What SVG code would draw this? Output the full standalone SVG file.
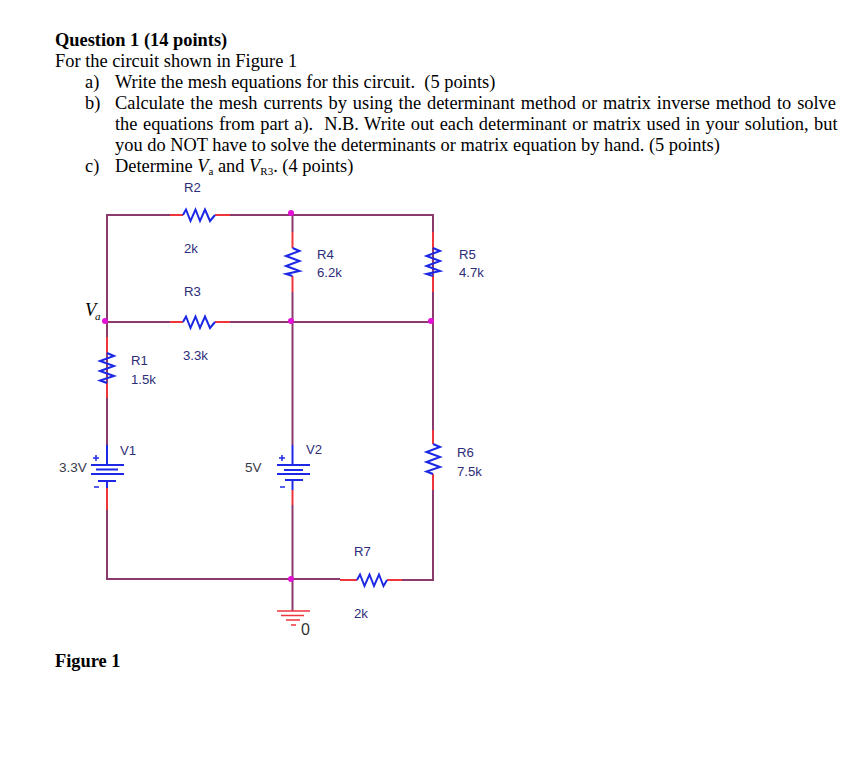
<svg xmlns="http://www.w3.org/2000/svg" width="859" height="761" viewBox="0 0 859 761">
<style>
text{font-family:"Liberation Serif","Times New Roman",serif;fill:#000}
.t{font-size:18.4px}
.b{font-weight:bold}
.i{font-style:italic}
.sub{font-size:11px}
.l{font-family:"Liberation Sans",Arial,sans-serif;font-size:13.2px;fill:#2e2e78}
.v{font-family:"Liberation Sans",Arial,sans-serif;font-size:13.5px;fill:#3a3a4a}
.w{stroke:#8a3a6c;stroke-width:2;fill:none}
.r{stroke:#f0343c;stroke-width:2;fill:none}
.c{stroke:#1c28e6;stroke-width:2;fill:none;stroke-linejoin:miter}
.g{stroke:#f0343c;stroke-width:1.6;fill:none}
.j{fill:#e410d8}
</style>
<rect width="859" height="761" fill="#fff"/>
<g id="question">
<text class="t b" x="55" y="46">Question 1 (14 points)</text>
<text class="t" x="55" y="67">For the circuit shown in Figure 1</text>
<text class="t" x="85" y="88">a)</text>
<text class="t" x="115" y="88" xml:space="preserve">Write the mesh equations for this circuit.  (5 points)</text>
<text class="t" x="85" y="109">b)</text>
<text class="t" x="115" y="109" word-spacing="1.3">Calculate the mesh currents by using the determinant method or matrix inverse method to solve</text>
<text class="t" x="115" y="130" word-spacing="0.9" xml:space="preserve">the equations from part a).  N.B. Write out each determinant or matrix used in your solution, but</text>
<text class="t" x="115" y="151">you do NOT have to solve the determinants or matrix equation by hand. (5 points)</text>
<text class="t" x="85" y="172">c)</text>
<text class="t" x="115" y="172">Determine <tspan class="i">V</tspan><tspan class="sub" dy="3">a</tspan><tspan dy="-3"> and </tspan><tspan class="i">V</tspan><tspan class="sub" dy="3">R3</tspan><tspan dy="-3">. (4 points)</tspan></text>
<text class="t b" x="55" y="667">Figure 1</text>
</g>
<g id="connectors">
<path class="w" d="M170 215H107V445M230 215H433V322M230 322H433V430M170 322H107M292.500 215V232M292.500 292V445M107 510V579H340M292.500 505V611M433 490V580H402"/>
<path class="r" d="M170 215H183M215 215H230M170 322H183M215 322H230M292.500 232V248M292.500 276V292M433 232V248M433 276V292M107 337V353M107 383V398M433 430V444M433 474V490M340 580H357M387 580H402M107 488V510M292.500 490V505"/>
</g>
<g id="R2"><path class="c" d="M183 215L186 209.500L190.500 221L195.500 209.500L200 221L205 209.500L210 221L215 215"/><text class="l" x="184" y="192">R2</text><text class="l" x="184" y="253">2k</text></g>
<g id="R3"><path class="c" d="M183 322L186 316.500L190.500 328L195.500 316.500L200 328L205 316.500L210 328L215 322"/><text class="l" x="184" y="296">R3</text><text class="l" x="183" y="360">3.3k</text></g>
<g id="R4"><path class="c" d="M292.500 248L299.500 251L286 256L299.500 261L286 266L299.500 271L286 274L292.500 276"/><text class="l" x="317" y="259">R4</text><text class="l" x="317" y="277">6.2k</text></g>
<g id="R5"><path class="c" d="M433 248L440 251L426.500 256L440 261L426.500 266L440 271L426.500 274L433 276"/><text class="l" x="459" y="259">R5</text><text class="l" x="459" y="277">4.7k</text></g>
<g id="R1"><path class="c" d="M107 353L114 356L100 361L114 366L100 371L114 376L100 380.500L107 383"/><text class="l" x="131" y="365">R1</text><text class="l" x="131" y="384">1.5k</text></g>
<g id="R6"><path class="c" d="M433 444L440 447L426.500 452L440 457L426.500 462L440 467L426.500 471.500L433 474"/><text class="l" x="457" y="457">R6</text><text class="l" x="457" y="476">7.5k</text></g>
<g id="R7"><path class="c" d="M357 580L360 574.500L364.500 586L369.500 574.500L374 586L379 574.500L383.500 586L387 580"/><text class="l" x="354" y="556">R7</text><text class="l" x="354" y="618">2k</text></g>
<g id="V1"><path class="c" d="M107 445V465M91 465H124M96 469.500H118M91 474H124M98 481H116M107 481V488"/><path class="c" style="stroke-width:1.500" d="M93 458H99M96 455V461M94 487H99"/><text class="l" x="120" y="455">V1</text><text class="v" x="59" y="472">3.3V</text></g>
<g id="V2"><path class="c" d="M292.500 445V465M277 465H310M284 470H303M277 474H310M285 480H303M292.500 480V490"/><path class="c" style="stroke-width:1.500" d="M279 458H285M282 455V461M280 487H285"/><text class="l" x="306" y="454">V2</text><text class="v" x="245" y="472">5V</text></g>
<g id="ground"><path class="g" d="M277 611H310M281 615.500H304M286 620H300M291 625H296"/><text x="301" y="635" style="font-family:'Liberation Sans',Arial,sans-serif;font-size:16px;fill:#333">0</text></g>
<g id="Va"><text class="t i" x="85" y="316">V</text><text class="i" x="95" y="320" style="font-size:11px">a</text></g>
<g id="junctions"><circle class="j" cx="105" cy="321" r="3"/><circle class="j" cx="291" cy="213" r="3"/><circle class="j" cx="291" cy="321" r="3"/><circle class="j" cx="431" cy="321" r="3"/><circle class="j" cx="291" cy="579" r="3"/></g>
</svg>
